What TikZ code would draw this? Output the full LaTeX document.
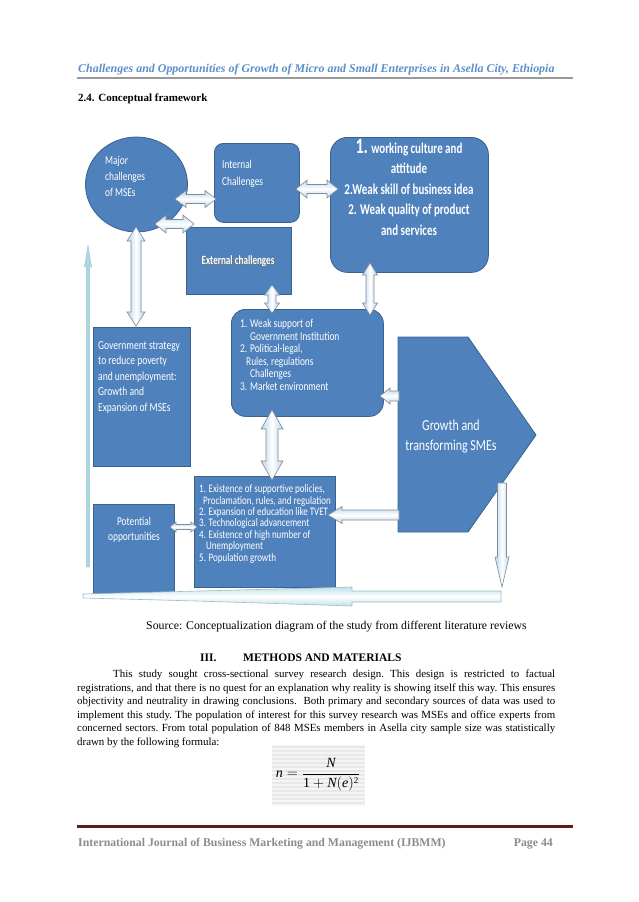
\documentclass[tikz,border=0pt]{standalone}
\usepackage{fontspec}
\setmainfont{Liberation Serif}
\newfontfamily\calr[FakeStretch=0.78]{Carlito}
\newfontfamily\calb[FakeStretch=0.73]{Carlito}
\usetikzlibrary{calc,shapes.geometric}
\definecolor{boxblue}{HTML}{4F81BD}
\definecolor{boxedge}{HTML}{3A6190}
\definecolor{arrblue}{HTML}{B9D3EA}
\definecolor{arredge}{HTML}{7F8C99}
\definecolor{thinblue}{HTML}{A9D8E3}
\definecolor{wedgeblue}{HTML}{BFE1EB}
\definecolor{headblue}{HTML}{5B8FC9}
\definecolor{footred}{HTML}{5E1B1B}
\definecolor{rulegray}{HTML}{999999}
\definecolor{footgray}{HTML}{8C8C8C}
% double block arrow: opts, from, to, shaft half, head half, head length
\newcommand\dblblk[6]{%
 \draw[#1] (#2) -- ($(#2)!#6!(#3)!#5!90:(#3)$) -- ($(#2)!#6!(#3)!#4!90:(#3)$)
  -- ($(#3)!#6!(#2)!#4!-90:(#2)$) -- ($(#3)!#6!(#2)!#5!-90:(#2)$) -- (#3)
  -- ($(#3)!#6!(#2)!#5!90:(#2)$) -- ($(#3)!#6!(#2)!#4!90:(#2)$)
  -- ($(#2)!#6!(#3)!#4!-90:(#3)$) -- ($(#2)!#6!(#3)!#5!-90:(#3)$) -- cycle;}
% single block arrow: opts, tail, tip, shaft half, head half, head length
\newcommand\sglblk[6]{%
 \draw[#1] ($(#2)!#4!90:(#3)$) -- ($(#3)!#6!(#2)!#4!-90:(#2)$) -- ($(#3)!#6!(#2)!#5!-90:(#2)$)
  -- (#3) -- ($(#3)!#6!(#2)!#5!90:(#2)$) -- ($(#3)!#6!(#2)!#4!90:(#2)$)
  -- ($(#2)!#4!-90:(#3)$) -- cycle;}
\tikzset{
 bluebox/.style={fill=boxblue, draw=boxedge, line width=0.8pt, inner sep=0pt},
 vshade/.style={draw=arredge, line width=0.6pt, left color=arrblue, right color=arrblue, middle color=white},
 hshade/.style={draw=arredge, line width=0.6pt, top color=arrblue, bottom color=arrblue, middle color=white},
 txt/.style={inner sep=0pt, text=white, align=left, anchor=north west},
}
\begin{document}
\begin{tikzpicture}[x=1pt,y=-1pt]
\useasboundingbox (0,0) rectangle (638,902);
\fill[white] (0,0) rectangle (638,902);
% ---------- page header ----------
\node[inner sep=0pt, anchor=base west, text=headblue, font=\fontsize{11.95}{14}\selectfont\bfseries\itshape] (hdr) at (78,72)
 {Challenges and Opportunities of Growth of Micro and Small Enterprises in Asella City, Ethiopia};
\draw[rulegray, line width=2pt] (77,77.5) -- (573,77.5);
\node[inner sep=0pt, anchor=base west, font=\fontsize{11}{13}\selectfont\bfseries] (sec) at (78,101) {2.4. Conceptual framework};
% ---------- boxes ----------
\node[bluebox, ellipse, minimum width=102pt, minimum height=95pt] (major) at (136.5,184.5) {};
\node[txt, font=\calr\fontsize{12}{16}\selectfont] (majortxt) at (105,156) {Major\\challenges\\of MSEs};
\node[bluebox, rounded corners=9pt, minimum width=85pt, minimum height=79pt, anchor=north west] (intl) at (214,143) {};
\node[txt, font=\calr\fontsize{12}{16.5}\selectfont] (intltxt) at (222,160) {Internal\\Challenges};
\node[bluebox, rounded corners=17pt, minimum width=158pt, minimum height=135pt, anchor=north west] (big) at (330,137) {};
\node[inner sep=0pt, text=white, align=center, anchor=north, font=\calb\bfseries\fontsize{15}{20.5}\selectfont] (bigtxt) at (409,139)
 {{\fontsize{22}{22}\selectfont 1.} working culture and\\attitude\\2.Weak skill of business idea\\2. Weak quality of product\\and services};
\node[bluebox, minimum width=105pt, minimum height=67pt, anchor=north west] (ext) at (186,227) {};
\node[inner sep=0pt, text=black!55, font=\calb\bfseries\fontsize{12.5}{14}\selectfont] (extshadow) at (238.7,261.7) {External challenges};
\node[inner sep=0pt, text=white, font=\calb\bfseries\fontsize{12.5}{14}\selectfont] (exttxt) at (238,261) {External challenges};
\node[bluebox, rounded corners=14pt, minimum width=152pt, minimum height=107pt, anchor=north west] (weak) at (231,309) {};
\node[txt, font=\calr\fontsize{12}{12.6}\selectfont] (weaktxt) at (240,319)
 {1. Weak support of\\\hspace*{10pt}Government Institution\\2. Political-legal,\\\hspace*{6pt}Rules, regulations\\\hspace*{10pt}Challenges\\3. Market environment};
\node[bluebox, minimum width=97pt, minimum height=139pt, anchor=north west] (gov) at (93,327) {};
\node[txt, font=\calr\fontsize{12.2}{15.5}\selectfont] (govtxt) at (98,341)
 {Government strategy\\to reduce poverty\\and unemployment:\\Growth and\\Expansion of MSEs};
\draw[bluebox] (398,337) coordinate (pnw) -- (468,337) -- (536,435) coordinate (ptip) -- (468,532) -- (398,532) coordinate (psw) -- cycle;
\node[inner sep=0pt, text=white, align=center, font=\calr\fontsize{15.3}{20}\selectfont] (pent) at (451,436) {Growth and\\transforming SMEs};
\node[bluebox, minimum width=141pt, minimum height=111pt, anchor=north west] (exist) at (194,476) {};
\node[txt, font=\calr\fontsize{11.5}{11.4}\selectfont] (existtxt) at (199,484.5)
 {1. Existence of supportive policies,\\\hspace*{4pt}Proclamation, rules, and regulation\\2. Expansion of education like TVET\\3. Technological advancement\\4. Existence of high number of\\\hspace*{7pt}Unemployment\\5. Population growth};
\node[bluebox, minimum width=81pt, minimum height=89pt, anchor=north west] (pot) at (93,504) {};
\node[inner sep=0pt, text=white, align=center, font=\calr\fontsize{12}{15}\selectfont] (pottxt) at (134,530) {Potential\\opportunities};
% ---------- connector end points ----------
\coordinate (mi1) at (175,199); \coordinate (mi2) at (216,199);
\coordinate (me1) at (155,224); \coordinate (me2) at (194,224);
\coordinate (ib1) at (296,189); \coordinate (ib2) at (338,189);
\coordinate (mg1) at (136,227); \coordinate (mg2) at (136,326);
\coordinate (ew1) at (272,285); \coordinate (ew2) at (272,313);
\coordinate (bw1) at (370,263); \coordinate (bw2) at (370,315);
\coordinate (pw1) at (399,396); \coordinate (pw2) at (380,396);
\coordinate (wx1) at (272,410); \coordinate (wx2) at (272,480);
\coordinate (px1) at (399,515); \coordinate (px2) at (328,515);
\coordinate (po1) at (170,527); \coordinate (po2) at (197,527);
\coordinate (th1) at (88,567);  \coordinate (th2) at (88,245);
\coordinate (pd1) at (502,483); \coordinate (pd2) at (502,587);
% ---------- block arrows ----------
\dblblk{hshade}{mi1}{mi2}{4.5pt}{8.5pt}{11pt}
\dblblk{hshade}{me1}{me2}{4.5pt}{9pt}{11pt}
\dblblk{hshade}{ib1}{ib2}{4.5pt}{9pt}{11pt}
\dblblk{vshade}{mg1}{mg2}{5pt}{9pt}{14pt}
\dblblk{vshade}{ew1}{ew2}{4pt}{7.5pt}{10pt}
\dblblk{vshade}{bw1}{bw2}{4pt}{7.5pt}{12pt}
\sglblk{hshade}{pw1}{pw2}{5pt}{8pt}{10pt}
\dblblk{vshade}{wx1}{wx2}{6pt}{11pt}{19pt}
\sglblk{hshade}{px1}{px2}{5pt}{8.5pt}{14pt}
\dblblk{hshade}{po1}{po2}{2.5pt}{5pt}{6pt}
\sglblk{draw=thinblue!80!gray, line width=0.4pt, fill=thinblue}{th1}{th2}{1.6pt}{3.5pt}{22pt}
\sglblk{vshade}{pd1}{pd2}{4.5pt}{7pt}{30pt}
% bottom wedge arrow
\draw[draw=thinblue!70!gray, line width=0.6pt, top color=wedgeblue, bottom color=wedgeblue, middle color=white]
 (83,594) .. controls (200,591) .. (352,587) -- (352,591) -- (501,591) -- (501,602) -- (352,602) -- (352,606)
 .. controls (200,601) .. (83,598) -- cycle;
% ---------- text below ----------
\node[inner sep=0pt, anchor=base, font=\fontsize{11.8}{13}\selectfont] (src) at (336.5,629)
 {Source: Conceptualization diagram of the study from different literature reviews};
\node[inner sep=0pt, anchor=base west, font=\fontsize{11.5}{13}\selectfont\bfseries] (sec3) at (200,661) {III.};
\node[inner sep=0pt, anchor=base west, font=\fontsize{11.5}{13}\selectfont\bfseries] (meth) at (243,661) {METHODS AND MATERIALS};
\node[inner sep=0pt, anchor=north west, text width=478pt, align=justify, font=\fontsize{10.9}{13.5}\selectfont\frenchspacing] (para) at (77,670)
 {\hspace*{36pt}This study sought cross-sectional survey research design. This design is restricted to factual\linebreak
 registrations, and that there is no quest for an explanation why reality is showing itself this way. This ensures\linebreak
 objectivity and neutrality in drawing conclusions.\ \ Both primary and secondary sources of data was used to\linebreak
 implement this study. The population of interest for this survey research was MSEs and office experts from\linebreak
 concerned sectors. From total population of 848 MSEs members in Asella city sample size was statistically\linebreak
 drawn by the following formula:};
% formula image
\fill[gray!8] (272,745) rectangle (365,806);
\foreach \yy in {746,750,...,804} {\fill[gray!18] (272,\yy) rectangle (365,\yy+1.6);}
\node[inner sep=0pt, font=\fontsize{14}{16}\selectfont] (formula) at (318,775)
 {$\displaystyle \mbox{\itshape n}=\frac{\mbox{\itshape N}}{\mbox{1}+\mbox{\itshape N}(\mbox{\itshape e})^{\mbox{\fontsize{9}{10}\selectfont 2}}}$};
% ---------- footer ----------
\draw[footred, line width=3pt] (77,826) -- (573,826);
\node[inner sep=0pt, anchor=base west, text=footgray, font=\fontsize{11.8}{13}\selectfont\bfseries] (foot) at (78,846)
 {International Journal of Business Marketing and Management (IJBMM)};
\node[inner sep=0pt, anchor=base east, text=footgray, font=\fontsize{11.8}{13}\selectfont\bfseries] (page) at (553,846) {Page 44};
\end{tikzpicture}
\end{document}
